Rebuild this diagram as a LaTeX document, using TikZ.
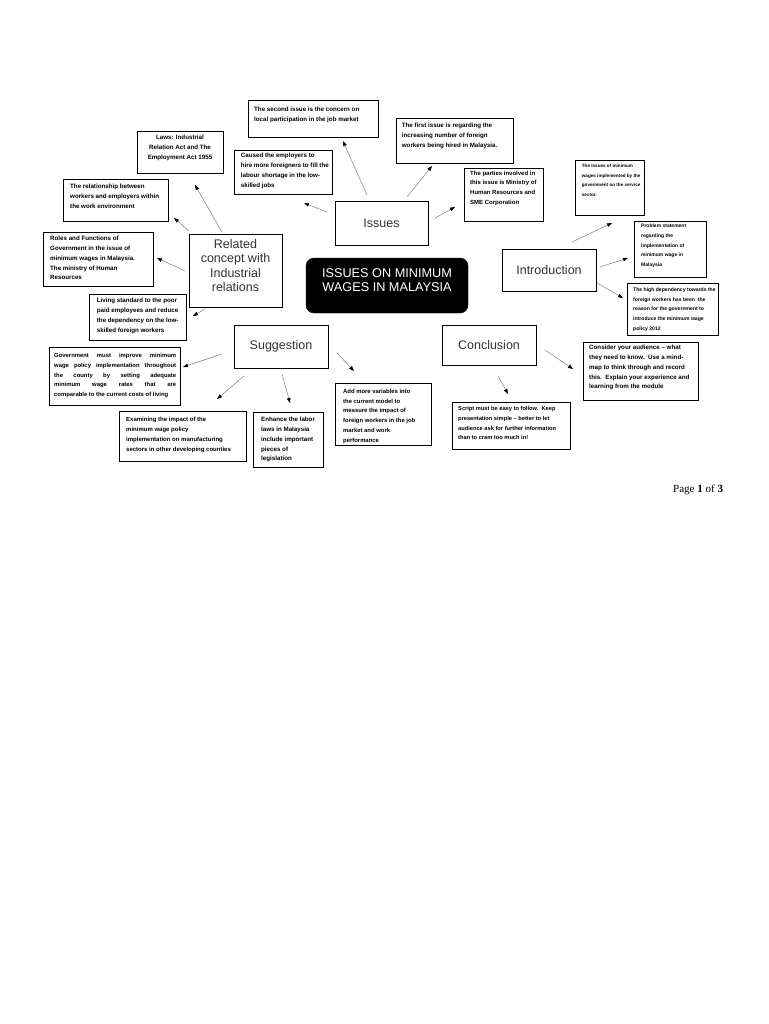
\documentclass[tikz,border=0pt]{standalone}
\usepackage{fontspec}
\setmainfont{Liberation Sans}
\newfontfamily\pgserif{Liberation Serif}
\usetikzlibrary{arrows.meta}
\begin{document}
\begin{tikzpicture}[x=1pt,y=-1pt,
 sbox/.style={draw=black,line width=0.8pt,anchor=north west,inner sep=0pt},
 stext/.style={anchor=north west,inner sep=0pt,align=left,font=\fontsize{#1}{9.7}\bfseries\selectfont},
 stext/.default=6.2,
 hub/.style={draw=black,line width=0.8pt,inner sep=0pt,font=\fontsize{12.5}{14.3}\selectfont,text=black!80,align=center},
 arr/.style={draw=black!50,line width=0.5pt,-{Triangle[length=5pt,width=3.6pt,color=black]}}]
\fill[white] (0,0) rectangle (768,1024);
\useasboundingbox (0,0) rectangle (768,1024);

% central node
\node[draw=black,fill=black,rounded corners=8pt,minimum width=162pt,minimum height=55pt,inner sep=0pt] (main) at (387,285.5) {};
\node[text=white,font=\fontsize{12.7}{14.5}\selectfont,align=center,inner sep=0pt] (maintxt) at (387,280) {ISSUES ON MINIMUM\\WAGES IN MALAYSIA};

% hubs
\node[hub,minimum width=93pt,minimum height=44pt] (issues) at (381.5,223) {Issues};
\node[hub,minimum width=93pt,minimum height=73pt] (related) at (235.5,270.5) {};
\node[inner sep=0pt,font=\fontsize{12.5}{14.3}\selectfont,text=black!80,align=center] (relatedtxt) at (235.5,265.5) {Related\\concept with\\Industrial\\relations};
\node[hub,minimum width=94pt,minimum height=43pt] (suggestion) at (281,346.5) {Suggestion};
\node[hub,minimum width=94pt,minimum height=40pt] (conclusion) at (489,345) {Conclusion};
\node[hub,minimum width=94pt,minimum height=42pt] (intro) at (549,270) {Introduction};

% small boxes
\node[sbox,minimum width=86pt,minimum height=42pt] (b1) at (137,131) {};
\node[sbox,minimum width=105pt,minimum height=42pt] (b2) at (63,179) {};
\node[sbox,minimum width=130pt,minimum height=37pt] (b3) at (248,100) {};
\node[sbox,minimum width=98pt,minimum height=44pt] (b4) at (234,150) {};
\node[sbox,minimum width=117pt,minimum height=45pt] (b5) at (396,118) {};
\node[sbox,minimum width=79pt,minimum height=53pt] (b6) at (464,168) {};
\node[sbox,minimum width=69pt,minimum height=55pt] (b7) at (575,160) {};
\node[sbox,minimum width=72pt,minimum height=56pt] (b8) at (634,221) {};
\node[sbox,minimum width=91pt,minimum height=52pt] (b9) at (627,283) {};
\node[sbox,minimum width=110pt,minimum height=54pt] (b10) at (43,232) {};
\node[sbox,minimum width=97pt,minimum height=46pt] (b11) at (89,294) {};
\node[sbox,minimum width=131pt,minimum height=58pt] (b12) at (49,347) {};
\node[sbox,minimum width=127pt,minimum height=50pt] (b13) at (119,411) {};
\node[sbox,minimum width=70pt,minimum height=55pt] (b14) at (253,412) {};
\node[sbox,minimum width=96pt,minimum height=62pt] (b15) at (335,383) {};
\node[sbox,minimum width=118pt,minimum height=47pt] (b16) at (452,402) {};
\node[sbox,minimum width=115pt,minimum height=58pt] (b17) at (583,342) {};

% texts
\node[stext,anchor=north,align=center] (t1) at (180,135.3) {Laws: Industrial\\Relation Act and The\\Employment Act 1955};
\node[stext] (t2) at (70,184) {The relationship between\\workers and employers within\\the work environment};
\node[stext] (t3) at (254,107.3) {The second issue is the concern on\\local participation in the job market};
\node[stext] (t4) at (240.7,153.3) {Caused the employers to\\hire more foreigners to fill the\\labour shortage in the low-\\skilled jobs};
\node[stext] (t5) at (401.7,123) {The first issue is regarding the\\increasing number of foreign\\workers being hired in Malaysia.};
\node[stext=6.0] (t6) at (470,170.7) {The parties involved in\\this issue is Ministry of\\Human Resources and\\SME Corporation};
\node[stext=4.6] (t7) at (581.7,164) {The issues of minimum\\wages implemented by the\\government on the service\\sector.};
\node[stext=5.0] (t8) at (641,223.8) {Problem statement\\regarding the\\implementation of\\minimum wage in\\Malaysia};
\node[stext=5.1] (t9) at (633,287.7) {The high dependency towards the\\foreign workers has been\ \ the\\reason for the government to\\introduce the minimum wage\\policy 2012};
\node[stext] (t10) at (50,236.3) {Roles and Functions of\\Government in the issue of\\minimum wages in Malaysia.\\The ministry of Human\\Resources};
\node[stext] (t11) at (96.7,298.3) {Living standard to the poor\\paid employees and reduce\\the dependency on the low-\\skilled foreign workers};
\node[stext=5.9] (t12) at (54,353.4) {\makebox[122pt][s]{Government must improve minimum}\\\makebox[122pt][s]{wage policy implementation throughout}\\\makebox[122pt][s]{the county by setting adequate}\\\makebox[122pt][s]{minimum wage rates that are}\\comparable to the current costs of living};
\node[stext=6.0] (t13) at (126,417.4) {Examining the impact of the\\minimum wage policy\\implementation on manufacturing\\sectors in other developing counties};
\node[stext] (t14) at (261,417.3) {Enhance the labor\\laws in Malaysia\\include important\\pieces of\\legislation};
\node[stext=5.9] (t15) at (343,389.1) {Add more variables into\\the current model to\\measure the impact of\\foreign workers in the job\\market and work\\performance};
\node[stext=5.7] (t16) at (458,406.5) {Script must be easy to follow.\ \ Keep\\presentation simple -- better to let\\audience ask for further information\\than to cram too much in!};
\node[stext] (t17) at (589,345.3) {Consider your audience -- what\\they need to know.\ \ Use a mind-\\map to think through and record\\this.\ \ Explain your experience and\\learning from the module};

% arrow end points
\coordinate (r1s) at (222,232); \coordinate (r1e) at (195,185);
\coordinate (r2s) at (189,231); \coordinate (r2e) at (174,218);
\coordinate (r3s) at (185,271); \coordinate (r3e) at (157,258);
\coordinate (r4s) at (205,309); \coordinate (r4e) at (193,316);
\coordinate (i1s) at (367,195); \coordinate (i1e) at (343,141);
\coordinate (i2s) at (327,212); \coordinate (i2e) at (304,203);
\coordinate (i3s) at (407,197); \coordinate (i3e) at (432,166);
\coordinate (i4s) at (435,218); \coordinate (i4e) at (455,207);
\coordinate (n1s) at (572,242); \coordinate (n1e) at (612,223);
\coordinate (n2s) at (600,267); \coordinate (n2e) at (628,258);
\coordinate (n3s) at (597,283); \coordinate (n3e) at (623,298);
\coordinate (s1s) at (222,354); \coordinate (s1e) at (183,367);
\coordinate (s2s) at (244,376); \coordinate (s2e) at (217,399);
\coordinate (s3s) at (282,374); \coordinate (s3e) at (290,403);
\coordinate (s4s) at (337,353); \coordinate (s4e) at (354,371);
\coordinate (c1s) at (498,376); \coordinate (c1e) at (508,394);
\coordinate (c2s) at (545,350); \coordinate (c2e) at (573,369);

\foreach \a in {r1,r2,r3,r4,i1,i2,i3,i4,n1,n2,n3,s1,s2,s3,s4,c1,c2}
  \draw[arr] (\a s) -- (\a e);

\node[anchor=base west,inner sep=0pt,font=\pgserif\fontsize{11}{13}\selectfont] (pg) at (673,492) {Page \textbf{1} of \textbf{3}};
\end{tikzpicture}
\end{document}
